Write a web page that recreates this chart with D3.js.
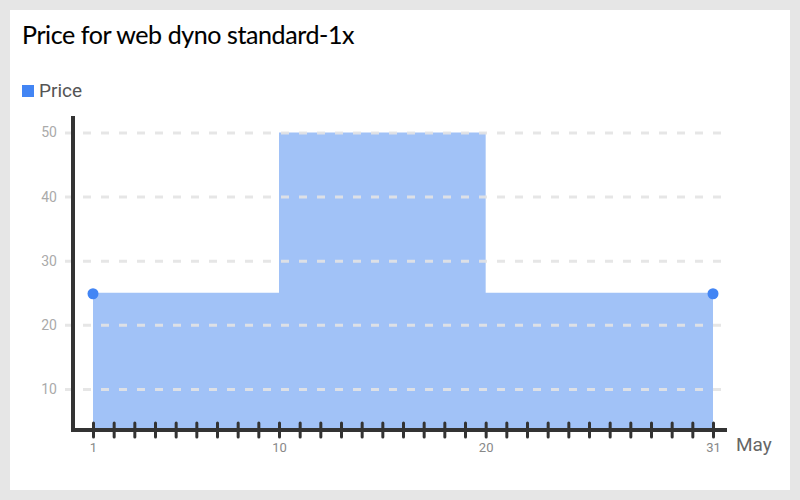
<!DOCTYPE html>
<html>
<head>
<meta charset="utf-8" />
<title>Price for web dyno standard-1x</title>
<script src="https://cdn.jsdelivr.net/npm/d3@7"></script>
<style>
body { margin: 0; background: #e6e6e6; }
svg { display: block; }
</style>
</head>
<body>
<svg width="800" height="500"></svg>
<script>
// data
var days   = [1, 2, 3, 4, 5, 6, 7, 8, 9, 10, 11, 12, 13, 14, 15, 16,
              17, 18, 19, 20, 21, 22, 23, 24, 25, 26, 27, 28, 29, 30, 31];
var prices = [25, 25, 25, 25, 25, 25, 25, 25, 25,
              50, 50, 50, 50, 50, 50, 50, 50, 50, 50,
              25, 25, 25, 25, 25, 25, 25, 25, 25, 25, 25, 25];
var xTickLabels = [1, 10, 20, 31];
var yTicks      = [10, 20, 30, 40, 50];
var seriesName  = "Price";
var monthLabel  = "May";

var blue = "#4285f4";
var plot = {left: 73, right: 727, top: 118, bottom: 430};

var svg = d3.select("svg");

// white panel
svg.append("rect")
  .attr("x", 10).attr("y", 10)
  .attr("width", 780).attr("height", 480)
  .attr("fill", "#fff");

svg.append("text")
  .attr("x", 22).attr("y", 44)
  .attr("font-family", "Lato, sans-serif")
  .attr("font-size", 25)
  .attr("letter-spacing", -0.4)
  .attr("fill", "#000")
  .attr("stroke", "#000")
  .attr("stroke-width", 0.12)
  .text("Price for web dyno standard-1x");

// legend
svg.append("rect")
  .attr("x", 22).attr("y", 85)
  .attr("width", 12).attr("height", 12)
  .attr("fill", blue);
svg.append("text")
  .attr("x", 39).attr("y", 97)
  .attr("font-family", "Roboto, sans-serif")
  .attr("font-size", 19)
  .attr("fill", "#555")
  .text(seriesName);

var x = d3.scaleLinear().domain([1, 31]).range([93, 713]);
var y = d3.scaleLinear().domain([0, 50]).range([453, 132.5]);

var data = days.map(function(d, i) { return {day: d, price: prices[i]}; });

// area
var area = d3.area()
  .curve(d3.curveStepAfter)
  .x(function(d) { return x(d.day); })
  .y0(plot.bottom)
  .y1(function(d) { return y(d.price); });

svg.append("path")
  .datum(data)
  .attr("d", area)
  .attr("fill", "#a1c2f7");

// grid lines + y labels
var yAxis = d3.axisLeft(y).tickValues(yTicks).tickSize(0).tickPadding(0);
var gY = svg.append("g")
  .attr("transform", "translate(" + plot.left + ",0)")
  .call(yAxis);
gY.select(".domain").remove();
gY.selectAll(".tick text")
  .attr("x", -16)
  .style("font-family", "Roboto, sans-serif")
  .style("font-size", "14px")
  .attr("fill", "#aaa");
gY.selectAll(".tick").append("line")
  .attr("x1", -8)
  .attr("x2", plot.right - plot.left)
  .attr("stroke", "#e3e3e3")
  .attr("stroke-width", 3)
  .attr("stroke-dasharray", "8,10")
  .attr("stroke-opacity", 0.9);

// x axis
var xAxis = d3.axisBottom(x).tickValues(days).tickSize(0)
  .tickFormat(function(d) { return xTickLabels.indexOf(d) >= 0 ? d : ""; });
var gX = svg.append("g")
  .attr("transform", "translate(0," + plot.bottom + ")")
  .call(xAxis);
gX.select(".domain").remove();
gX.selectAll(".tick text")
  .attr("y", 17)
  .attr("dy", "0.35em")
  .style("font-family", "Roboto, sans-serif")
  .style("font-size", "13px")
  .attr("fill", "#888");
gX.selectAll(".tick").append("line")
  .attr("y1", -7).attr("y2", 7)
  .attr("stroke", "#333")
  .attr("stroke-width", 3)
  .attr("stroke-linecap", "round");

// axis lines
svg.append("line")
  .attr("x1", plot.left).attr("x2", plot.left)
  .attr("y1", plot.top - 2).attr("y2", plot.bottom + 2)
  .attr("stroke", "#333").attr("stroke-width", 4);
svg.append("line")
  .attr("x1", plot.left - 2).attr("x2", plot.right)
  .attr("y1", plot.bottom).attr("y2", plot.bottom)
  .attr("stroke", "#333").attr("stroke-width", 4);

svg.append("text")
  .attr("x", 736).attr("y", 451)
  .attr("font-family", "Roboto, sans-serif")
  .attr("font-size", 19)
  .attr("fill", "#666")
  .text(monthLabel);

// end points
var ends = [data[0], data[data.length - 1]];
svg.selectAll("circle.end").data(ends).enter()
  .append("circle")
  .attr("class", "end")
  .attr("cx", function(d) { return x(d.day); })
  .attr("cy", function(d) { return y(d.price) + 1; })
  .attr("r", 5.5)
  .attr("fill", blue);
</script>
</body>
</html>
